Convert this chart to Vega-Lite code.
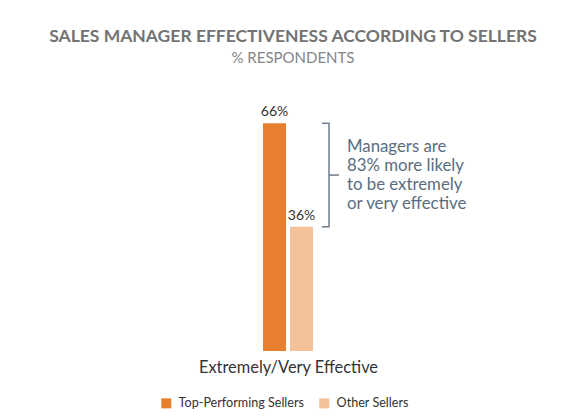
{
  "$schema": "https://vega.github.io/schema/vega-lite/v6.json",
  "autosize": "none",
  "width": 50,
  "height": 276,
  "padding": {"left": 263, "top": 75, "right": 260, "bottom": 69},
  "background": "white",
  "config": {"view": {"stroke": null}, "font": "Lato"},
  "title": {
    "text": "SALES MANAGER EFFECTIVENESS ACCORDING TO SELLERS",
    "subtitle": "% RESPONDENTS",
    "anchor": "middle",
    "frame": "group",
    "dx": 5,
    "offset": 9,
    "font": "Lato",
    "fontSize": 17.5,
    "fontWeight": "bold",
    "color": "#737373",
    "subtitleFont": "Lato",
    "subtitleFontSize": 15,
    "subtitleColor": "#858585",
    "subtitlePadding": 6
  },
  "datasets": {
    "bars": [
      {"series": "Top-Performing Sellers", "value": 66, "label": "66%"},
      {"series": "Other Sellers", "value": 36, "label": "36%"}
    ],
    "bracket": [{"series": "Other Sellers", "lo": 36, "hi": 66}],
    "ends": [
      {"series": "Other Sellers", "at": 66},
      {"series": "Other Sellers", "at": 36}
    ],
    "mid": [
      {"series": "Other Sellers", "at": 51, "note": "Managers are\n83% more likely\nto be extremely\nor very effective"}
    ]
  },
  "encoding": {
    "x": {
      "field": "series",
      "type": "nominal",
      "scale": {
        "domain": ["Top-Performing Sellers", "Other Sellers"],
        "paddingInner": 0.148,
        "paddingOuter": 0
      },
      "axis": {
        "title": "Extremely/Very Effective",
        "labels": false,
        "ticks": false,
        "domain": false,
        "titleFont": "Lato",
        "titleFontSize": 16.4,
        "titleFontWeight": "normal",
        "titleColor": "#333333",
        "titlePadding": 8
      }
    }
  },
  "layer": [
    {
      "data": {"name": "bars"},
      "mark": {"type": "bar"},
      "encoding": {
        "y": {"field": "value", "type": "quantitative", "scale": {"domain": [0, 80]}, "axis": null},
        "color": {
          "field": "series",
          "type": "nominal",
          "scale": {"domain": ["Top-Performing Sellers", "Other Sellers"], "range": ["#E77F2F", "#F3C29A"]},
          "legend": {
            "title": null,
            "orient": "none",
            "direction": "horizontal",
            "legendX": -103,
            "legendY": 322,
            "symbolType": "square",
            "symbolSize": 100,
            "symbolStrokeWidth": 0,
            "labelFont": "Lato",
            "labelFontSize": 12.6,
            "labelColor": "#333333",
            "labelOffset": 6,
            "columnPadding": 14
          }
        }
      }
    },
    {
      "data": {"name": "bars"},
      "mark": {"type": "text", "baseline": "bottom", "dy": -4, "fontSize": 14, "color": "#333333"},
      "encoding": {
        "y": {"field": "value", "type": "quantitative"},
        "text": {"field": "label", "type": "nominal"}
      }
    },
    {
      "data": {"name": "bracket"},
      "mark": {"type": "rule", "xOffset": 27.5, "color": "#6E7D8C", "strokeWidth": 1.5},
      "encoding": {
        "y": {"field": "lo", "type": "quantitative"},
        "y2": {"field": "hi"}
      }
    },
    {
      "data": {"name": "ends"},
      "mark": {"type": "rule", "xOffset": 20.5, "x2Offset": 28.2, "color": "#6E7D8C", "strokeWidth": 1.5},
      "encoding": {
        "x2": {"field": "series"},
        "y": {"field": "at", "type": "quantitative"}
      }
    },
    {
      "data": {"name": "mid"},
      "mark": {"type": "rule", "xOffset": 27.5, "x2Offset": 37.5, "color": "#6E7D8C", "strokeWidth": 1.5},
      "encoding": {
        "x2": {"field": "series"},
        "y": {"field": "at", "type": "quantitative"}
      }
    },
    {
      "data": {"name": "mid"},
      "mark": {"type": "text", "align": "left", "baseline": "middle", "dx": 45.5, "dy": -28.5, "fontSize": 16.8, "lineHeight": 19, "lineBreak": "\n", "color": "#5A6D80"},
      "encoding": {
        "y": {"field": "at", "type": "quantitative"},
        "text": {"field": "note", "type": "nominal"}
      }
    }
  ]
}
